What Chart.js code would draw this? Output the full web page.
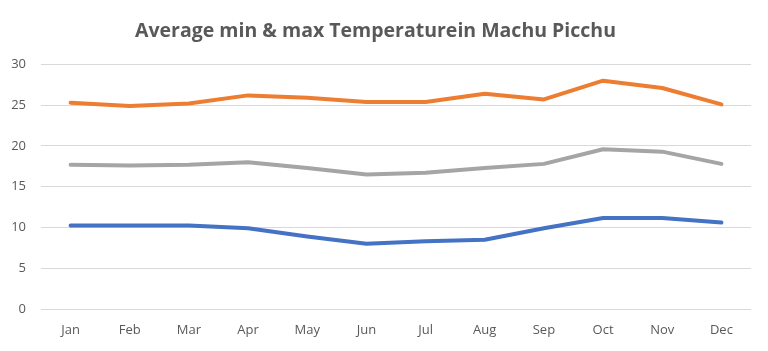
<!DOCTYPE html>
<html>
<head>
<meta charset="utf-8">
<script src="https://cdn.jsdelivr.net/npm/chart.js@4/dist/chart.umd.min.js"></script>
<style>
  html, body { margin: 0; padding: 0; background: #fff; }
  #wrap { width: 768px; height: 351px; }
</style>
</head>
<body>
<div id="wrap"><canvas id="chart" width="768" height="351"></canvas></div>
<script>
const months = ['Jan', 'Feb', 'Mar', 'Apr', 'May', 'Jun', 'Jul', 'Aug', 'Sep', 'Oct', 'Nov', 'Dec']
const maxTemp = [25.3, 24.9, 25.2, 26.2, 25.9, 25.4, 25.4, 26.4, 25.7, 28.0, 27.1, 25.1]
const avgTemp = [17.7, 17.6, 17.7, 18.0, 17.3, 16.5, 16.7, 17.3, 17.8, 19.6, 19.3, 17.8]
const minTemp = [10.25, 10.25, 10.25, 9.9, 8.9, 8.0, 8.3, 8.5, 9.9, 11.15, 11.15, 10.6]
const yTicks = [0, 5, 10, 15, 20, 25, 30]

const series = [
    {label: 'Max', points: maxTemp, color: '#ED7D31'},
    {label: 'Avg', points: avgTemp, color: '#A5A5A5'},
    {label: 'Min', points: minTemp, color: '#4472C4'},
]

const datasets = []
series.forEach(s => {datasets.push({
    label: s.label,
    data: s.points,
    borderColor: s.color,
    backgroundColor: s.color,
    borderWidth: 4,
    pointRadius: 0,
    tension: 0,
    borderCapStyle: 'round',
    borderJoinStyle: 'round',
    fill: false,
})})

const textColor = '#595959'

new Chart(document.getElementById('chart'), {
    type: 'line',
    data: {
        labels: months,
        datasets: datasets
    },
    options: {
        responsive: false,
        animation: false,
        layout: {
            padding: {left: 0, right: 17, top: 0, bottom: 0}
        },
        plugins: {
            legend: {display: false},
            tooltip: {enabled: false},
            title: {
                display: true,
                text: 'Average min & max Temperaturein Machu Picchu',
                color: textColor,
                font: {family: 'Open Sans', size: 19.5, weight: 'bold'},
                padding: {top: 20, bottom: 21}
            }
        },
        scales: {
            x: {
                offset: true,
                grid: {display: false, drawTicks: false},
                border: {display: false},
                ticks: {
                    color: textColor,
                    font: {family: 'Open Sans', size: 13},
                    padding: 13,
                    maxRotation: 0
                },
                afterFit: scale => { scale.height = 42 }
            },
            y: {
                min: 0,
                max: 30,
                afterBuildTicks: scale => { scale.ticks = yTicks.map(v => ({value: v})) },
                grid: {color: '#D9D9D9', lineWidth: 1, drawTicks: false},
                border: {display: false},
                ticks: {
                    color: textColor,
                    font: {family: 'Open Sans', size: 13},
                    padding: 15
                },
                afterFit: scale => { scale.width = 41 }
            }
        }
    }
});
</script>
</body>
</html>
